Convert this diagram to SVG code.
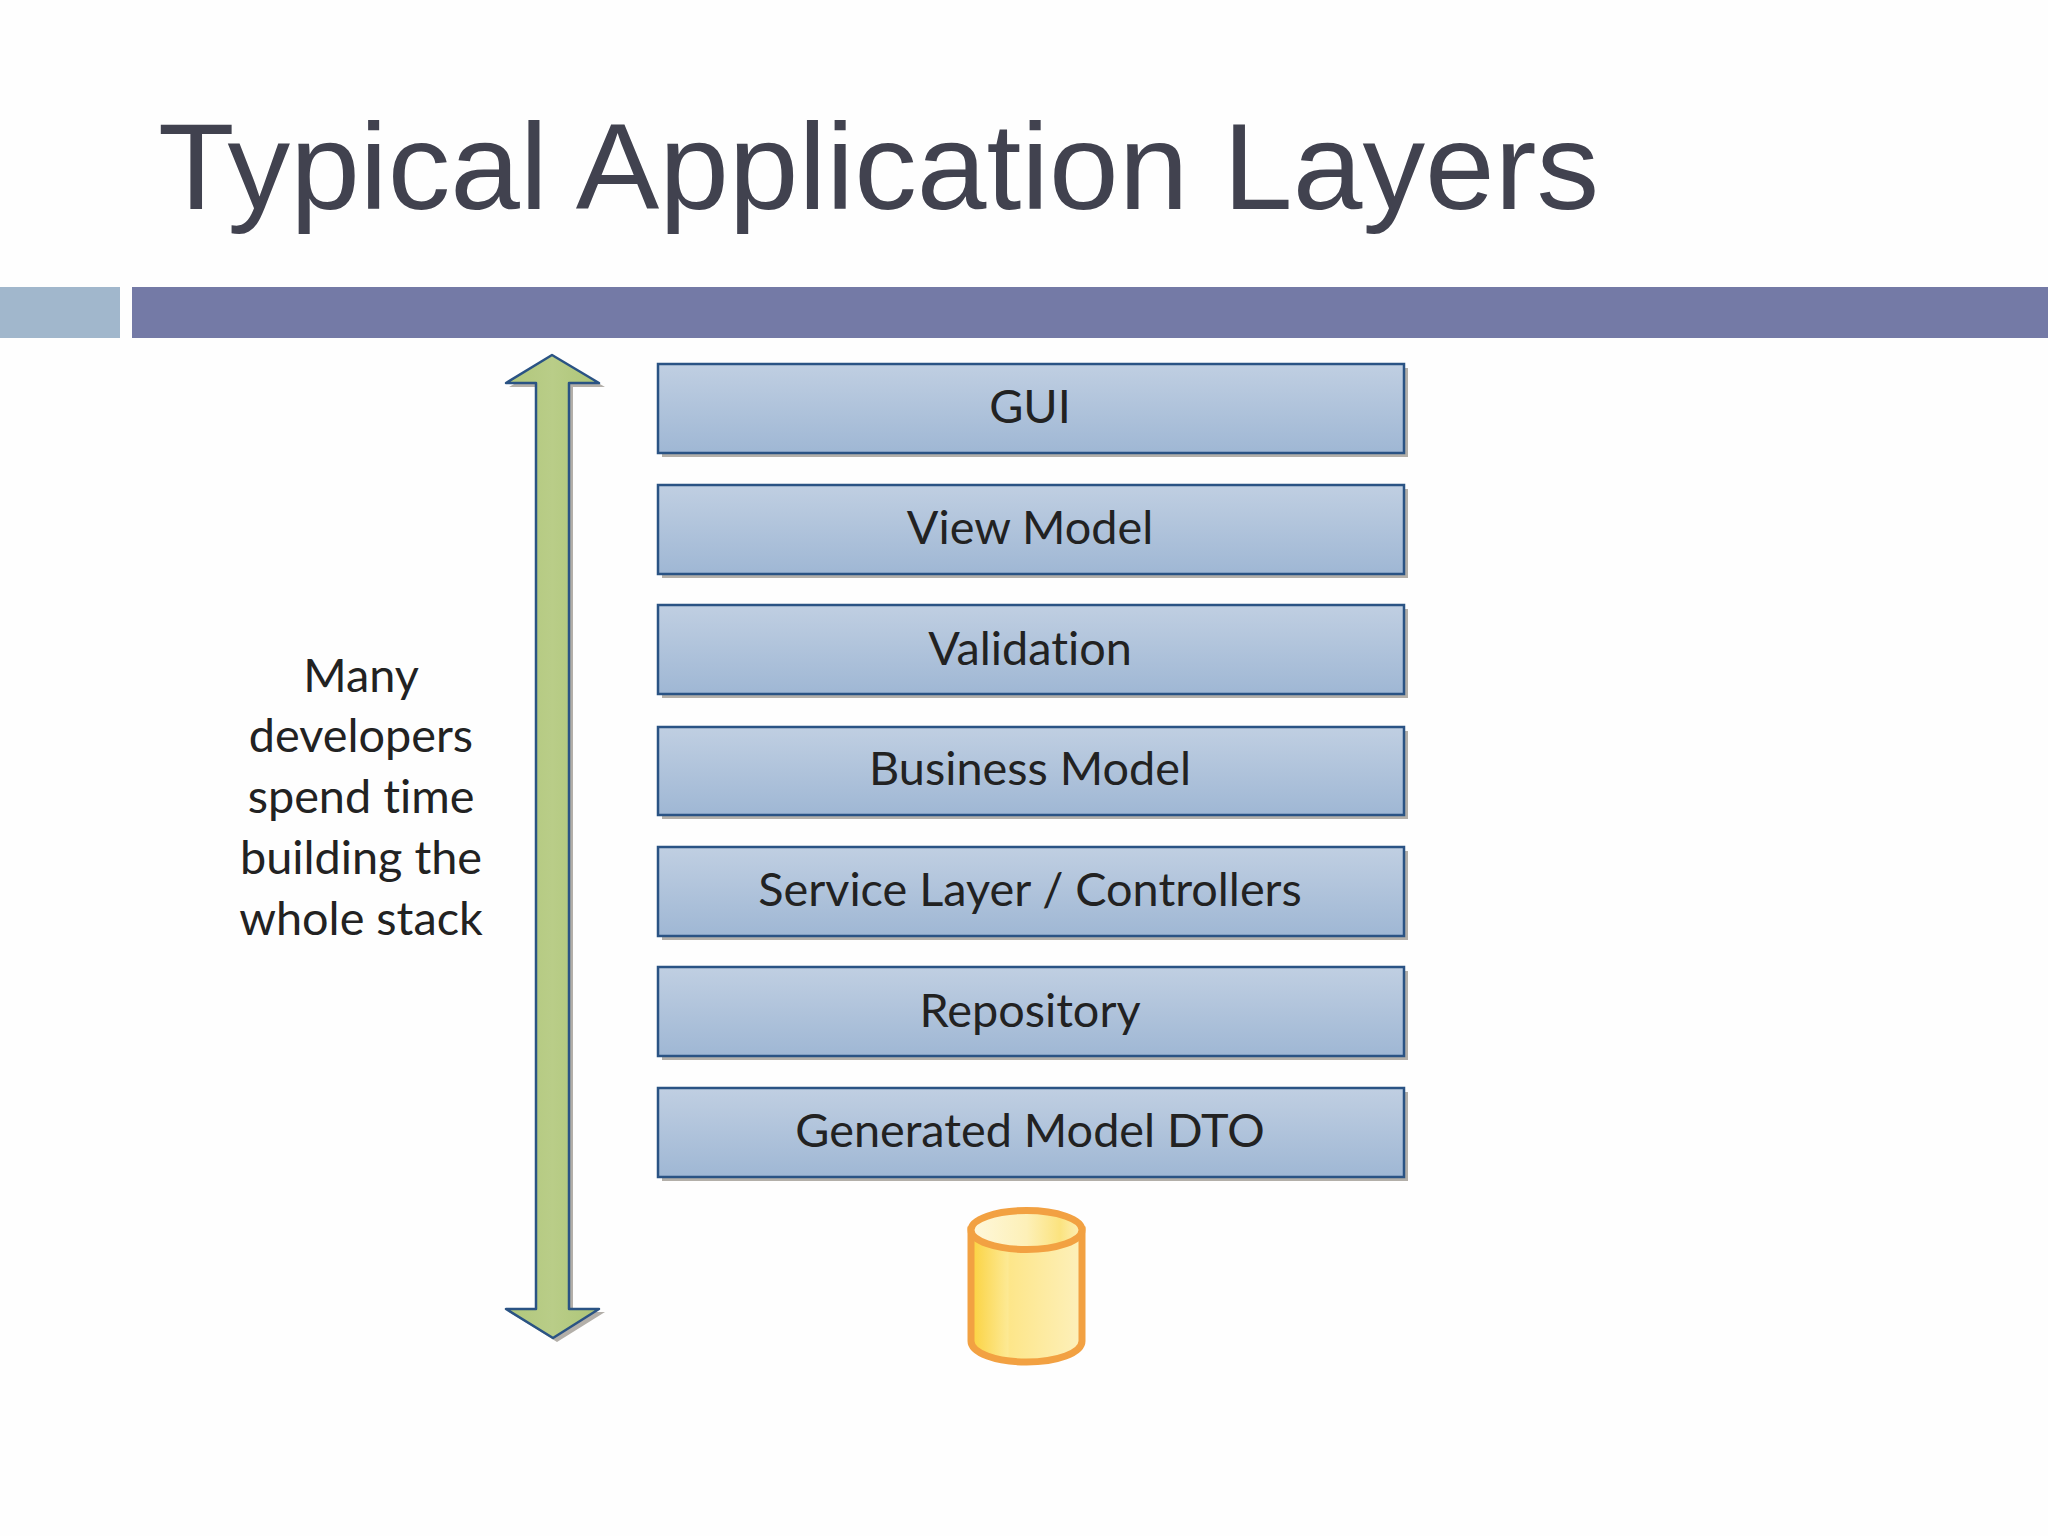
<svg xmlns="http://www.w3.org/2000/svg" width="2048" height="1536" viewBox="0 0 2048 1536">
<style>
.t{font-family:"Lato","Liberation Sans",sans-serif;font-size:46.800px;fill:#222222;text-anchor:middle;font-variant-ligatures:none}
.b{fill:url(#bg);stroke:#2a5384;stroke-width:2.500}
.s{fill:#b3afa9}
</style>
<defs>
<linearGradient id="bg" x1="0" y1="0" x2="0" y2="1"><stop offset="0" stop-color="#c0cfe2"/><stop offset="1" stop-color="#9fb7d4"/></linearGradient>
<linearGradient id="ag" x1="0" y1="0" x2="1" y2="0"><stop offset="0" stop-color="#b1c77b"/><stop offset=".5" stop-color="#b9cd88"/><stop offset="1" stop-color="#adc577"/></linearGradient>
<linearGradient id="cy" x1="0" y1="0" x2="1" y2="0"><stop offset="0" stop-color="#fbd23f"/><stop offset=".33" stop-color="#fde993"/><stop offset=".35" stop-color="#fde68a"/><stop offset="1" stop-color="#fdf0bb"/></linearGradient>
<linearGradient id="ct" x1="0" y1="0" x2="1" y2="0"><stop offset="0" stop-color="#fef8dc"/><stop offset=".5" stop-color="#fdf0b8"/><stop offset=".8" stop-color="#fbe37f"/><stop offset="1" stop-color="#fdf0bb"/></linearGradient>
</defs>
<rect width="2048" height="1536" fill="#fefefe"/>
<text id="title" x="158" y="209" font-family="Liberation Sans, Arial, sans-serif" font-size="122" fill="#41424f" textLength="1441" lengthAdjust="spacingAndGlyphs">Typical Application Layers</text>
<rect id="bar-a" x="0" y="287" width="120" height="51" fill="#a1b7cc"/>
<rect id="bar-b" x="132" y="287" width="1916" height="51" fill="#747aa6"/>
<g id="arrow">
<path class="s" d="M509 387H541V1312H509L557 1342L605 1312H573V387H605L557 359Z"/>
<path d="M552 355L599 383H569V1309H599L553 1338L506 1309H536V383H506Z" fill="url(#ag)" stroke="#2a5384" stroke-width="2.500" stroke-linejoin="round"/>
</g>
<g id="caption">
<text class="t" x="361" y="692">Many</text>
<text class="t" x="361" y="752">developers</text>
<text class="t" x="361" y="813">spend time</text>
<text class="t" x="361" y="874">building the</text>
<text class="t" x="361" y="935">whole stack</text>
</g>
<g id="gui"><rect class="s" x="662" y="368" width="746" height="89"/><rect class="b" x="658" y="364" width="746" height="89"/><text class="t" x="1030" y="423">GUI</text></g>
<g id="view-model"><rect class="s" x="662" y="489" width="746" height="89"/><rect class="b" x="658" y="485" width="746" height="89"/><text class="t" x="1030" y="544">View Model</text></g>
<g id="validation"><rect class="s" x="662" y="609" width="746" height="89"/><rect class="b" x="658" y="605" width="746" height="89"/><text class="t" x="1030" y="665">Validation</text></g>
<g id="business-model"><rect class="s" x="662" y="731" width="746" height="88"/><rect class="b" x="658" y="727" width="746" height="88"/><text class="t" x="1030" y="785">Business Model</text></g>
<g id="service-layer"><rect class="s" x="662" y="851" width="746" height="89"/><rect class="b" x="658" y="847" width="746" height="89"/><text class="t" x="1030" y="906">Service Layer / Controllers</text></g>
<g id="repository"><rect class="s" x="662" y="971" width="746" height="89"/><rect class="b" x="658" y="967" width="746" height="89"/><text class="t" x="1030" y="1027">Repository</text></g>
<g id="generated-dto"><rect class="s" x="662" y="1092" width="746" height="89"/><rect class="b" x="658" y="1088" width="746" height="89"/><text class="t" x="1030" y="1147">Generated Model DTO</text></g>
<g id="database">
<path d="M971 1230V1341C971 1353 996 1362 1026.500 1362C1057 1362 1082 1353 1082 1341V1230Z" fill="url(#cy)" stroke="#f2a142" stroke-width="7"/>
<ellipse cx="1026.500" cy="1230" rx="55.500" ry="19.500" fill="url(#ct)" stroke="#f2a142" stroke-width="7"/>
</g>
<g id="connectors"/>
</svg>
